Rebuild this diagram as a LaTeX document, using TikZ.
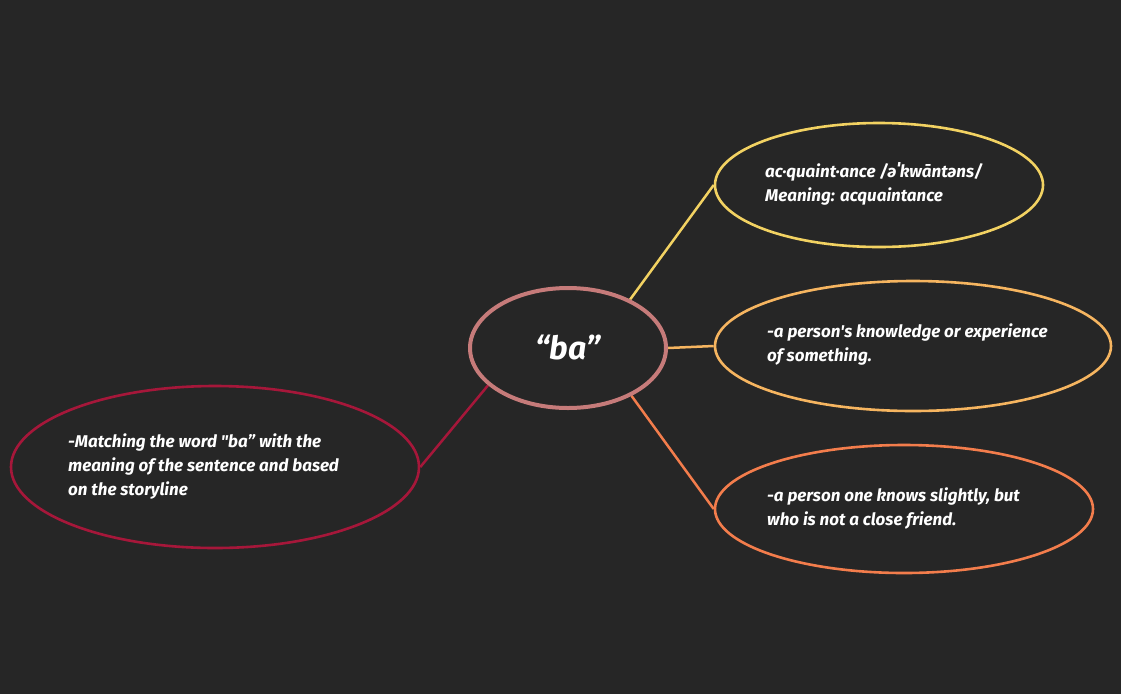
\documentclass[tikz,border=0pt]{standalone}
\usepackage{fontspec}
\setmainfont{Fira Sans}
\usetikzlibrary{shapes.geometric}
\pgfdeclarelayer{bg}
\pgfsetlayers{bg,main}
\definecolor{canvas}{HTML}{262626}
\definecolor{rose}{HTML}{C67B7A}
\definecolor{sun}{HTML}{F2D262}
\definecolor{peach}{HTML}{F6B560}
\definecolor{coral}{HTML}{F37D4C}
\definecolor{crimson}{HTML}{A6173A}

\begin{document}
\begin{tikzpicture}[
        bubble/.style={ellipse, draw, line width=2.6pt, inner sep=0pt},
        note/.style={text=white, anchor=west, align=left, inner sep=0pt,
                font=\fontsize{17}{24}\selectfont\bfseries\itshape}]
        \useasboundingbox (0pt,0pt) rectangle (1121pt,-694pt);
        \node (ba) [bubble, draw=rose, line width=4pt, minimum width=196pt, minimum height=120pt, text=white,
                font=\fontsize{32}{36}\selectfont\bfseries\itshape] at (568.000000pt, -348.000000pt) {“ba”};
        \node (acq) [bubble, draw=sun, minimum width=328pt, minimum height=124pt] at (879.000000pt, -185.000000pt) {};
        \node (acqtext) [note] at (765.000000pt, -184.000000pt) {ac·quaint·ance /əˈkwāntəns/\\Meaning: acquaintance};
        \node (know) [bubble, draw=peach, minimum width=396pt, minimum height=130pt] at (913.000000pt, -346.000000pt) {};
        \node (knowtext) [note] at (767.000000pt, -345.000000pt) {-a person\textquotesingle s knowledge or experience\\of something.};
        \node (friend) [bubble, draw=coral, minimum width=378pt, minimum height=128pt] at (904.000000pt, -509.000000pt) {};
        \node (friendtext) [note] at (767.000000pt, -508.000000pt) {-a person one knows slightly, but\\who is not a close friend.};
        \node (story) [bubble, draw=crimson, minimum width=408pt, minimum height=162pt] at (215.000000pt, -467.000000pt) {};
        \node (storytext) [note] at (68.000000pt, -466.000000pt) {-Matching the word \textquotedbl ba” with the\\meaning of the sentence and based\\on the storyline};
        \begin{pgfonlayer}{bg}
                \fill[canvas] (0pt,0pt) rectangle (1121pt,-694pt);
                \draw (ba.38) edge [sun, line width=2.5pt] (acq.west);
                \draw (ba.east) edge [peach, line width=2.5pt] (know.west);
                \draw (ba.-37) edge [coral, line width=2.5pt] (friend.west);
                \draw (ba.205) edge [crimson, line width=2.5pt] (story.east);
        \end{pgfonlayer}
\end{tikzpicture}
\end{document}
